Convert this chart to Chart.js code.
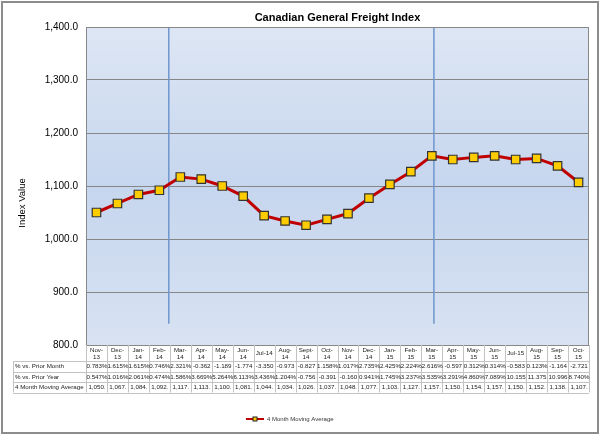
<!DOCTYPE html>
<html>
<head>
<meta charset="utf-8">
<script src="https://cdn.jsdelivr.net/npm/chart.js@4.4.0/dist/chart.umd.min.js"></script>
<style>
  html, body { margin: 0; padding: 0; background: #fff; }
  #wrap { width: 600px; height: 435px; }
</style>
</head>
<body>
<div id="wrap"><canvas id="grfc-freight"></canvas></div>
<script>
const months = ['Nov-13', 'Dec-13', 'Jan-14', 'Feb-14', 'Mar-14', 'Apr-14', 'May-14', 'Jun-14',
  'Jul-14', 'Aug-14', 'Sept-14', 'Oct-14', 'Nov-14', 'Dec-14', 'Jan-15', 'Feb-15',
  'Mar-15', 'Apr-15', 'May-15', 'Jun-15', 'Jul-15', 'Aug-15', 'Sep-15', 'Oct-15'];
const movingAvg = [1050, 1067, 1084, 1092, 1117, 1113, 1100, 1081, 1044, 1034, 1026, 1037,
  1048, 1077, 1103, 1127, 1157, 1150, 1154, 1157, 1150, 1152, 1138, 1107];
const priorMonth = ['0.783%', '1.615%', '1.615%', '0.746%', '2.321%', '-0.362', '-1.189', '-1.774',
  '-3.350', '-0.973', '-0.827', '1.158%', '1.017%', '2.735%', '2.425%', '2.224%',
  '2.616%', '-0.597', '0.312%', '0.314%', '-0.583', '0.123%', '-1.164', '-2.721'];
const priorYear = ['0.547%', '1.016%', '2.061%', '0.474%', '1.586%', '3.669%', '5.264%', '6.113%',
  '3.436%', '1.204%', '-0.756', '-0.391', '-0.160', '0.941%', '1.745%', '3.237%',
  '3.535%', '3.291%', '4.860%', '7.089%', '10.155', '11.375', '10.996', '8.740%'];
const rowNames = ['% vs. Prior Month', '% vs. Prior Year', '4 Month Moving Average'];
const seriesName = '4 Month Moving Average';
const yMin = 800, yMax = 1400, yStep = 100;
// the two blue marker lines (category index units) and how far down they reach
const markerAt = [3.45, 16.1];
const markerBottom = 840;

const FONT = '"Liberation Sans", Arial, sans-serif';

function fmt(v, d) {
  return v.toLocaleString('en-US', { minimumFractionDigits: d, maximumFractionDigits: d });
}

const decor = {
  id: 'decor',
  beforeDraw(chart) {
    const { ctx, chartArea: a } = chart;
    let g = ctx.createLinearGradient(0, a.top, 0, a.bottom);
    g.addColorStop(0, '#dde6f4');
    g.addColorStop(0.5, '#c6d6ee');
    g.addColorStop(1, '#d8e2f2');
    ctx.save();
    ctx.fillStyle = g;
    ctx.fillRect(a.left, a.top, a.right - a.left, a.bottom - a.top);
    ctx.restore();
  },
  beforeDatasetsDraw(chart) {
    const { ctx, scales: { x, y } } = chart;
    ctx.save();
    ctx.strokeStyle = '#6f96cf';
    ctx.lineWidth = 1.5;
    markerAt.forEach(m => {
      let px = x.getPixelForValue(m);
      ctx.beginPath();
      ctx.moveTo(px, y.getPixelForValue(yMax));
      ctx.lineTo(px, y.getPixelForValue(markerBottom));
      ctx.stroke();
    });
    ctx.restore();
  },
  afterDraw(chart) {
    const { ctx, chartArea: a, scales: { x } } = chart;
    ctx.save();

    // plot border
    ctx.strokeStyle = '#888';
    ctx.lineWidth = 1;
    ctx.strokeRect(a.left + 0.5, a.top + 0.5, a.right - a.left - 1, a.bottom - a.top);

    // title
    ctx.fillStyle = '#000';
    ctx.font = 'bold 11px ' + FONT;
    ctx.textAlign = 'center';
    ctx.textBaseline = 'middle';
    ctx.fillText('Canadian General Freight Index', (a.left + a.right) / 2, 18);

    // y title
    ctx.save();
    ctx.translate(22, 203);
    ctx.rotate(-Math.PI / 2);
    ctx.font = '9.5px ' + FONT;
    ctx.fillText('Index Value', 0, 0);
    ctx.restore();

    // data table
    const colW = x.width / months.length;
    const headTop = a.bottom, headBot = a.bottom + 16, rowH = 10.5;
    const tabLeft = 13, tabRight = a.right;
    const tabBot = headBot + rowH * 3;
    ctx.strokeStyle = '#c3c3c3';
    ctx.lineWidth = 1;
    ctx.beginPath();
    for (let r = 0; r <= 3; r++) {
      let yy = Math.round(headBot + r * rowH) + 0.5;
      ctx.moveTo(tabLeft, yy);
      ctx.lineTo(tabRight, yy);
    }
    ctx.moveTo(tabLeft + 0.5, headBot);
    ctx.lineTo(tabLeft + 0.5, tabBot);
    for (let i = 0; i <= months.length; i++) {
      let xx = Math.round(a.left + i * colW) + 0.5;
      ctx.moveTo(xx, headTop);
      ctx.lineTo(xx, tabBot);
    }
    ctx.stroke();

    ctx.font = '6.2px ' + FONT;
    ctx.fillStyle = '#222';
    ctx.textAlign = 'center';
    months.forEach((m, i) => {
      let cx = x.getPixelForValue(i);
      let parts = m.split('-');
      if (m.startsWith('Jul')) {
        ctx.fillText(m, cx, (headTop + headBot) / 2);
      } else {
        ctx.fillText(parts[0] + '-', cx, headTop + 5);
        ctx.fillText(parts[1], cx, headTop + 12);
      }
      let cells = [priorMonth[i], priorYear[i], fmt(movingAvg[i], 0) + '.'];
      cells.forEach((t, r) => {
        ctx.fillText(t, cx + 0.5, headBot + r * rowH + rowH / 2 + 0.5);
      });
    });
    ctx.textAlign = 'left';
    rowNames.forEach((n, r) => {
      ctx.fillText(n, tabLeft + 2, headBot + r * rowH + rowH / 2 + 0.5);
    });

    // legend
    let ly = 419, lx = 246;
    ctx.strokeStyle = '#c00000';
    ctx.lineWidth = 2;
    ctx.beginPath();
    ctx.moveTo(lx, ly);
    ctx.lineTo(lx + 18, ly);
    ctx.stroke();
    ctx.fillStyle = '#ffcc00';
    ctx.strokeStyle = '#222';
    ctx.lineWidth = 1;
    ctx.fillRect(lx + 7, ly - 2, 4, 4);
    ctx.strokeRect(lx + 7, ly - 2, 4, 4);
    ctx.fillStyle = '#333';
    ctx.font = '6px ' + FONT;
    ctx.textBaseline = 'middle';
    ctx.fillText(seriesName, lx + 21, ly);

    // outer frame
    ctx.strokeStyle = '#8c8c8c';
    ctx.lineWidth = 2;
    ctx.strokeRect(2, 2, 596, 431);
    ctx.restore();
  }
};

let ctx1 = document.getElementById('grfc-freight');
new Chart(ctx1, {
  type: 'line',
  data: {
    labels: months,
    datasets: [{
      label: seriesName,
      data: movingAvg,
      borderColor: '#c00000',
      borderWidth: 3,
      tension: 0,
      pointStyle: 'rect',
      pointRadius: 6,
      pointBackgroundColor: '#ffcc00',
      pointBorderColor: '#333',
      pointBorderWidth: 1.2
    }]
  },
  options: {
    responsive: true,
    maintainAspectRatio: false,
    animation: false,
    devicePixelRatio: 1,
    layout: { padding: { left: 10, right: 11, top: 27, bottom: 0 } },
    plugins: {
      legend: { display: false },
      title: { display: false },
      tooltip: { enabled: false }
    },
    scales: {
      x: {
        offset: true,
        grid: { display: false },
        border: { display: false },
        ticks: { display: false },
        afterFit: s => { s.height = 90; }
      },
      y: {
        min: yMin,
        max: yMax,
        grid: { color: '#868686', drawTicks: false },
        border: { display: false },
        ticks: {
          stepSize: yStep,
          padding: 8,
          color: '#000',
          font: { size: 10, family: FONT },
          callback: v => fmt(v, 1)
        },
        afterFit: s => { s.width = 76; }
      }
    }
  },
  plugins: [decor]
});
</script>
</body>
</html>
